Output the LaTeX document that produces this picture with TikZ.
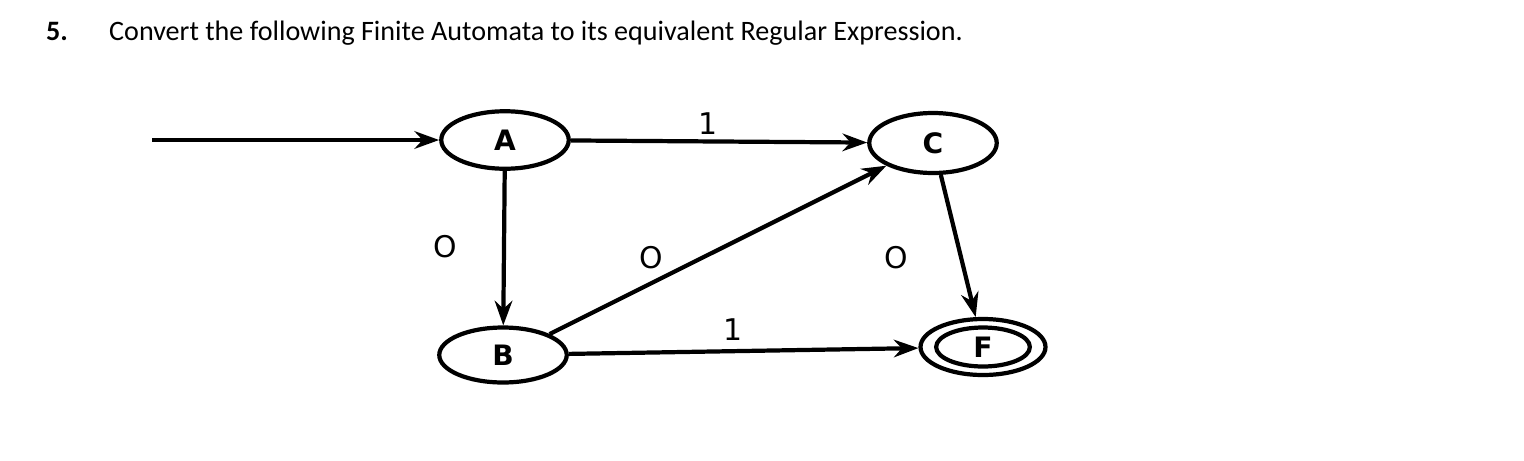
\documentclass[tikz,border=0pt]{standalone}
\usepackage{fontspec}
\setmainfont{Carlito}
\newfontfamily\lblfont{DejaVu Sans}
\usetikzlibrary{shapes.geometric,arrows.meta}
\begin{document}
\begin{tikzpicture}[x=0.02cm,y=-0.02cm,
  st/.style={ellipse,draw,line width=2.4pt,minimum width=124\pgflinewidth/2.4,inner sep=0pt,font=\lblfont\bfseries\fontsize{16}{16}\selectfont},
  edge/.style={line width=2.4pt,-{Stealth[length=14pt,width=10pt]}},
  lbl/.style={font=\lblfont\fontsize{17}{17}\selectfont}]
\useasboundingbox (0,0) rectangle (1524,460);
\node[anchor=base west,font=\bfseries\fontsize{16}{16}\selectfont] (num) at (40,40) {5.};
\node[anchor=base west,font=\fontsize{16}{16}\selectfont] (title) at (103,40) {Convert the following Finite Automata to its equivalent Regular Expression.};
\node[st,minimum width=3.4cm*0.75,minimum height=1.15cm] (A) at (505,140) {A};
\node[st,minimum width=3.4cm*0.75,minimum height=1.2cm] (C) at (933,143) {C};
\node[st,minimum width=3.4cm*0.75,minimum height=1.1cm] (B) at (503,355) {B};
\node[st,minimum width=2.5cm*0.75,minimum height=0.78cm] (F) at (983,347) {F};
\node[ellipse,draw,line width=2.4pt,minimum width=2.5cm,minimum height=1.12cm] (F2) at (983,347) {};
\coordinate (s) at (152,140);
\draw[edge] (s) -- (A);
\draw[edge] (A) -- (C);
\draw[edge] (A) -- (B);
\draw[edge] (B.north east) -- (C.south west);
\draw[edge] (B) -- (F2);
\draw[edge] (C) -- (F2);
\node[lbl] (l1) at (708,124) {1};
\node[lbl] (l2) at (445,247) {O};
\node[lbl] (l3) at (651,258) {O};
\node[lbl] (l4) at (896,258) {O};
\node[lbl] (l5) at (733,330) {1};
\end{tikzpicture}
\end{document}
